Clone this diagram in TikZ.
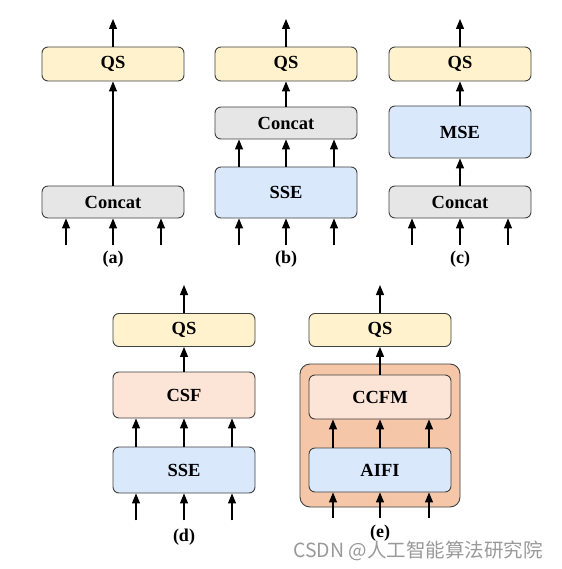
\documentclass[tikz,border=0pt]{standalone}
\usepackage{fontspec}
\setmainfont{Liberation Serif}
\newfontfamily\cjkfont{Noto Sans CJK SC}
\usetikzlibrary{arrows.meta, positioning}

\definecolor{qsfill}{HTML}{FFF2CC}
\definecolor{grayfill}{HTML}{E6E6E6}
\definecolor{bluefill}{HTML}{DAE8FC}
\definecolor{peachfill}{HTML}{FCE4D6}
\definecolor{outerfill}{HTML}{F5C7A8}
\definecolor{edgegray}{HTML}{3F3F3F}

\tikzset{
	blk/.style={draw=edgegray, line width=0.9pt, rounded corners=6pt, minimum width=142pt,
		inner sep=0pt, font=\fontsize{18.5}{18.5}\selectfont\bfseries},
	qs/.style={blk, fill=qsfill, minimum height=34pt},
	cat/.style={blk, fill=grayfill, minimum height=32pt},
	enc/.style={blk, fill=bluefill},
	fuse/.style={blk, fill=peachfill},
	lbl/.style={font=\fontsize{18}{18}\selectfont\bfseries},
}

\begin{document}
\begin{tikzpicture}[x=1pt, y=-1pt, ->, >={Triangle[length=10pt, width=8pt]}, line width=1.2pt]
		\useasboundingbox (0, 0) rectangle (561, 569);
		
		% (a)
		\node[qs] (qsA) at (113, 64) {QS};
		\node[cat] (catA) at (113, 202) {Concat};
		\coordinate (outA) at (113, 19);
		\node[lbl] (labA) at (113, 259) {(a)};
		\draw (catA) -- (qsA);
		\draw (qsA) -- (outA);
		\foreach \dx [count=\i] in {-47, 0, 48} {
			\coordinate (inA\i) at ([xshift=\dx pt, yshift=-27pt]catA.south);
			\draw (inA\i) -- ([xshift=\dx pt]catA.south);
		}
		
		% (b)
		\node[qs] (qsB) at (286, 64) {QS};
		\node[cat] (catB) at (286, 123) {Concat};
		\node[enc, minimum height=51pt] (sseB) at (286, 192.5) {SSE};
		\coordinate (outB) at (286, 19);
		\node[lbl] (labB) at (286, 259) {(b)};
		\draw (catB) -- (qsB);
		\draw (qsB) -- (outB);
		\foreach \dx [count=\i] in {-47, 0, 48} {
			\coordinate (inB\i) at ([xshift=\dx pt, yshift=-27pt]sseB.south);
			\draw (inB\i) -- ([xshift=\dx pt]sseB.south);
			\draw ([xshift=\dx pt]sseB.north) -- ([xshift=\dx pt]catB.south);
		}
		
		% (c)
		\node[qs] (qsC) at (460, 64) {QS};
		\node[enc, minimum height=52pt] (mseC) at (460, 132) {MSE};
		\node[cat] (catC) at (460, 202) {Concat};
		\coordinate (outC) at (460, 19);
		\node[lbl] (labC) at (460, 259) {(c)};
		\draw (catC) -- (mseC);
		\draw (mseC) -- (qsC);
		\draw (qsC) -- (outC);
		\foreach \dx [count=\i] in {-48, 0, 48} {
			\coordinate (inC\i) at ([xshift=\dx pt, yshift=-27pt]catC.south);
			\draw (inC\i) -- ([xshift=\dx pt]catC.south);
		}
		
		% (d)
		\node[qs, minimum height=33pt] (qsD) at (184, 330) {QS};
		\node[fuse, minimum height=46pt] (csfD) at (184, 395) {CSF};
		\node[enc, minimum height=46pt] (sseD) at (184, 470) {SSE};
		\coordinate (outD) at (184, 285);
		\node[lbl] (labD) at (184, 537) {(d)};
		\draw (csfD) -- (qsD);
		\draw (qsD) -- (outD);
		\foreach \dx [count=\i] in {-48, 0, 48} {
			\coordinate (inD\i) at ([xshift=\dx pt, yshift=-27pt]sseD.south);
			\draw (inD\i) -- ([xshift=\dx pt]sseD.south);
			\draw ([xshift=\dx pt]sseD.north) -- ([xshift=\dx pt]csfD.south);
		}
		
		% (e)
		\node[draw=edgegray, line width=0.9pt, fill=outerfill, rounded corners=10pt,
			minimum width=160pt, minimum height=143pt] (rtE) at (380, 435.5) {};
		\node[qs, minimum height=33pt] (qsE) at (380, 330) {QS};
		\node[fuse, minimum height=44pt] (ccfmE) at (380, 397) {CCFM};
		\node[enc, minimum height=44pt] (aifiE) at (380, 470) {AIFI};
		\coordinate (outE) at (380, 285);
		\node[lbl] (labE) at (380, 533) {(e)};
		\draw (ccfmE) -- (qsE);
		\draw (qsE) -- (outE);
		\foreach \dx [count=\i] in {-47, 0, 49} {
			\coordinate (inE\i) at ([xshift=\dx pt, yshift=-26pt]aifiE.south);
			\draw (inE\i) -- ([xshift=\dx pt]aifiE.south);
			\draw ([xshift=\dx pt]aifiE.north) -- ([xshift=\dx pt]ccfmE.south);
		}
		
		\node[text=black!40, font=\cjkfont\fontsize{19.5}{19.5}\selectfont] (mark) at (418, 551) {CSDN @人工智能算法研究院};
	\end{tikzpicture}
\end{document}
